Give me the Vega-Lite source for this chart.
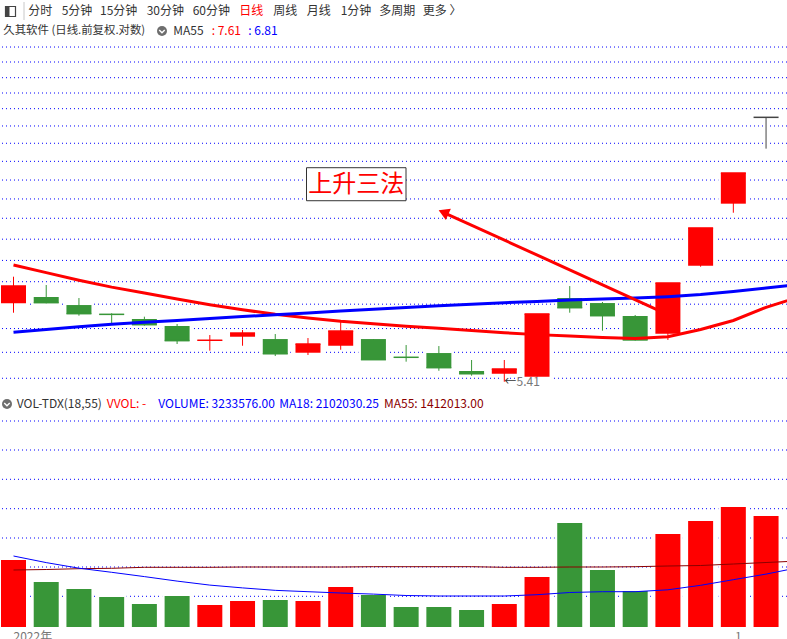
{
"$schema": "https://vega.github.io/schema/vega-lite/v6.json",
"width": 787, "height": 639,
"autosize": {"type": "none"},
"padding": 0,
"background": "white",
"config": {"view": {"stroke": null}, "font": "Noto Sans CJK SC", "scale": {"continuousPadding": 0}},
"datasets": {
"k": [
{"i":0,"o":6.183,"h":6.470,"l":6.085,"c":6.368,"d":"up","vd":"up","v":1951777},
{"i":1,"o":6.250,"h":6.379,"l":6.183,"c":6.190,"d":"down","vd":"down","v":1310895},
{"i":2,"o":6.165,"h":6.239,"l":6.054,"c":6.075,"d":"down","vd":"down","v":1106978},
{"i":3,"o":6.072,"h":6.079,"l":5.976,"c":6.068,"d":"down","vd":"down","v":873930},
{"i":4,"o":6.020,"h":6.044,"l":5.952,"c":5.962,"d":"down","vd":"down","v":670013},
{"i":5,"o":5.949,"h":5.969,"l":5.769,"c":5.802,"d":"down","vd":"down","v":903061},
{"i":6,"o":5.802,"h":5.858,"l":5.704,"c":5.806,"d":"up","vd":"up","v":640882},
{"i":7,"o":5.841,"h":5.908,"l":5.752,"c":5.878,"d":"up","vd":"up","v":757406},
{"i":8,"o":5.818,"h":5.868,"l":5.652,"c":5.674,"d":"down","vd":"down","v":786537},
{"i":9,"o":5.684,"h":5.828,"l":5.662,"c":5.769,"d":"up","vd":"up","v":757406},
{"i":10,"o":5.752,"h":6.010,"l":5.713,"c":5.898,"d":"up","vd":"up","v":1165240},
{"i":11,"o":5.818,"h":5.818,"l":5.617,"c":5.617,"d":"down","vd":"down","v":932192},
{"i":12,"o":5.643,"h":5.759,"l":5.598,"c":5.640,"d":"down","vd":"down","v":582620},
{"i":13,"o":5.681,"h":5.749,"l":5.512,"c":5.541,"d":"down","vd":"down","v":582620},
{"i":14,"o":5.510,"h":5.614,"l":5.466,"c":5.484,"d":"down","vd":"down","v":495227},
{"i":15,"o":5.484,"h":5.614,"l":5.410,"c":5.529,"d":"up","vd":"up","v":670013},
{"i":16,"o":5.456,"h":6.072,"l":5.456,"c":6.072,"d":"up","vd":"up","v":1456550},
{"i":17,"o":6.239,"h":6.368,"l":6.085,"c":6.137,"d":"down","vd":"down","v":3029624},
{"i":18,"o":6.186,"h":6.197,"l":5.901,"c":6.054,"d":"down","vd":"down","v":1660467},
{"i":19,"o":6.051,"h":6.061,"l":5.802,"c":5.809,"d":"down","vd":"down","v":1048716},
{"i":20,"o":5.871,"h":6.401,"l":5.809,"c":6.401,"d":"up","vd":"up","v":2709183},
{"i":21,"o":6.592,"h":7.030,"l":6.581,"c":7.030,"d":"up","vd":"up","v":3087886},
{"i":22,"o":7.327,"h":7.720,"l":7.215,"c":7.720,"d":"up","vd":"up","v":3495720},
{"i":23,"o":8.488,"h":8.488,"l":8.047,"c":8.488,"d":"flat","vd":"up","v":3233576}
],
"ma": [
{"i":0,"mr":6.600,"mb":5.885,"v18":2068301,"v55":1660467},
{"i":1,"mr":6.515,"mb":5.913,"v18":1876036,"v55":1675033},
{"i":2,"mr":6.431,"mb":5.940,"v18":1712903,"v55":1698337},
{"i":3,"mr":6.356,"mb":5.966,"v18":1593466,"v55":1709990},
{"i":4,"mr":6.292,"mb":5.986,"v18":1468202,"v55":1739121},
{"i":5,"mr":6.228,"mb":6.006,"v18":1337113,"v55":1739121},
{"i":6,"mr":6.167,"mb":6.026,"v18":1220589,"v55":1739121},
{"i":7,"mr":6.116,"mb":6.045,"v18":1139022,"v55":1747860},
{"i":8,"mr":6.068,"mb":6.064,"v18":1067651,"v55":1747860},
{"i":9,"mr":6.031,"mb":6.083,"v18":1028324,"v55":1747860},
{"i":10,"mr":5.997,"mb":6.103,"v18":990454,"v55":1747860},
{"i":11,"mr":5.972,"mb":6.121,"v18":958410,"v55":1756599},
{"i":12,"mr":5.947,"mb":6.140,"v18":917627,"v55":1756599},
{"i":13,"mr":5.927,"mb":6.157,"v18":903061,"v55":1756599},
{"i":14,"mr":5.903,"mb":6.174,"v18":903061,"v55":1756599},
{"i":15,"mr":5.881,"mb":6.190,"v18":903061,"v55":1739121},
{"i":16,"mr":5.862,"mb":6.203,"v18":940931,"v55":1739121},
{"i":17,"mr":5.849,"mb":6.217,"v18":1005020,"v55":1747860},
{"i":18,"mr":5.834,"mb":6.230,"v18":1028324,"v55":1747860},
{"i":19,"mr":5.823,"mb":6.239,"v18":1028324,"v55":1756599},
{"i":20,"mr":5.841,"mb":6.254,"v18":1083673,"v55":1776991},
{"i":21,"mr":5.913,"mb":6.276,"v18":1214763,"v55":1791557},
{"i":22,"mr":6.005,"mb":6.309,"v18":1377896,"v55":1835253},
{"i":23,"mr":6.141,"mb":6.346,"v18":1541030,"v55":1878950},
{"i":24,"mr":6.250,"mb":6.384,"v18":1733295,"v55":1922646}
],
"pgrid": [{"p":9.568},{"p":9.327},{"p":9.081},{"p":8.847},{"p":8.614},{"p":8.364},{"p":8.121},{"p":7.875},{"p":7.628},{"p":7.386},{"p":7.147},{"p":6.897},{"p":6.652},{"p":6.415},{"p":6.174},{"p":5.923},{"p":5.688},{"p":5.442}],
"vgrid": [{"v":6000986},{"v":5156187},{"v":4302649},{"v":3446197},{"v":2592659},{"v":1747860},{"v":894322}],
"ptext": [
{"x":0.452,"y":10.165,"t":"分时","c":"txt"},
{"x":1.473,"y":10.165,"t":"5分钟","c":"txt"},
{"x":2.644,"y":10.165,"t":"15分钟","c":"txt"},
{"x":4.071,"y":10.165,"t":"30分钟","c":"txt"},
{"x":5.477,"y":10.165,"t":"60分钟","c":"txt"},
{"x":6.901,"y":10.165,"t":"日线","c":"red"},
{"x":7.940,"y":10.165,"t":"周线","c":"txt"},
{"x":8.961,"y":10.165,"t":"月线","c":"txt"},
{"x":10.000,"y":10.165,"t":"1分钟","c":"txt"},
{"x":11.180,"y":10.165,"t":"多周期","c":"txt"},
{"x":12.506,"y":10.165,"t":"更多 〉","c":"txt"},
{"x":4.884,"y":9.833,"t":"MA55","c":"txt"},
{"x":6.057,"y":9.833,"t":": 7.61","c":"red"},
{"x":7.176,"y":9.833,"t":": 6.81","c":"blue"},
{"x":15.0,"y":5.41,"t":"←","c":"txt"},
{"x":15.373,"y":5.41,"t":"5.41","c":"gray"}
],
"ttl": [{"x":-0.312,"y":9.833,"t":"久其软件 (日线.前复权.对数)","c":"txt"}],
"vtext": [
{"x":0.098,"y":6496213,"t":"VOL-TDX(18,55)","c":"txt"},
{"x":2.848,"y":6496213,"t":"VVOL: -","c":"red"},
{"x":4.425,"y":6496213,"t":"VOLUME: 3233576.00","c":"blue"},
{"x":8.123,"y":6496213,"t":"MA18: 2102030.25","c":"blue"},
{"x":11.323,"y":6496213,"t":"MA55: 1412013.00","c":"darkred"}
],
"vaxis": [
{"x":0.0,"y":-145655,"t":"2022年","c":"gray"},
{"x":22.05,"y":-145655,"t":"1","c":"gray"}
],
"note": [{"x":8.955,"x2":11.996,"y":7.790,"y2":7.364,"xc":10.477,"yc":7.570,"t":"上升三法","ax":13.249,"ay":7.199,"ax2":19.697,"ay2":6.113,"hx":13.142,"hy":7.220}],
"icons": [{"x":4.538,"y":9.833}],
"vicons": [{"x":-0.199,"y":6496213}],
"tb": [{"x":-0.0917,"y":10.165,"sx":0.321,"sy":10.331,"sy2":10.019}]
},
"layer": [
{
"layer": [
{"data":{"name":"pgrid"},"mark":{"type":"rule","strokeDash":[1,3],"color":"#0000ff","strokeWidth":1},
 "encoding":{"y":{"field":"p","type":"quantitative","scale":{"type":"log","domain":[3.4903,10.366],"nice":false,"zero":false},"axis":null}}},
{"data":{"name":"k"},"mark":{"type":"rule","color":"white","strokeWidth":6},
 "encoding":{"x":{"field":"i","type":"quantitative","scale":{"domain":[-0.4126,23.64],"nice":false,"zero":false,"padding":0},"axis":null},
  "y":{"field":"l","type":"quantitative","scale":{"type":"log","domain":[3.4903,10.366],"nice":false,"zero":false},"axis":null},"y2":{"field":"h"}}},
{"data":{"name":"k"},"mark":{"type":"bar","width":25,"color":"white","stroke":"white","strokeWidth":5},
 "encoding":{"x":{"field":"i","type":"quantitative","scale":{"domain":[-0.4126,23.64],"nice":false,"zero":false,"padding":0},"axis":null},
  "y":{"field":"o","type":"quantitative","scale":{"type":"log","domain":[3.4903,10.366],"nice":false,"zero":false},"axis":null},"y2":{"field":"c"}}},
{"data":{"name":"k"},"mark":{"type":"rule","strokeWidth":1},
 "encoding":{"x":{"field":"i","type":"quantitative","scale":{"domain":[-0.4126,23.64],"nice":false,"zero":false,"padding":0},"axis":null},
  "y":{"field":"l","type":"quantitative","scale":{"type":"log","domain":[3.4903,10.366],"nice":false,"zero":false},"axis":null},"y2":{"field":"h"},
  "color":{"field":"d","type":"nominal","scale":{"domain":["up","down","flat","txt","red","blue","darkred","gray"],"range":["#ff0000","#389638","#444444","#333333","#ff0000","#0000ff","#8b0000","#777777"]},"legend":null}}},
{"data":{"name":"k"},"mark":{"type":"bar","width":25},
 "encoding":{"x":{"field":"i","type":"quantitative","scale":{"domain":[-0.4126,23.64],"nice":false,"zero":false,"padding":0},"axis":null},
  "y":{"field":"o","type":"quantitative","scale":{"type":"log","domain":[3.4903,10.366],"nice":false,"zero":false},"axis":null},"y2":{"field":"c"},
  "color":{"field":"d","type":"nominal","scale":{"domain":["up","down","flat","txt","red","blue","darkred","gray"],"range":["#ff0000","#389638","#444444","#333333","#ff0000","#0000ff","#8b0000","#777777"]},"legend":null}}},
{"data":{"name":"k"},"mark":{"type":"tick","orient":"horizontal","size":25,"thickness":1.5,"opacity":1},
 "encoding":{"x":{"field":"i","type":"quantitative","scale":{"domain":[-0.4126,23.64],"nice":false,"zero":false,"padding":0},"axis":null},
  "y":{"field":"c","type":"quantitative","scale":{"type":"log","domain":[3.4903,10.366],"nice":false,"zero":false},"axis":null},
  "color":{"field":"d","type":"nominal","scale":{"domain":["up","down","flat","txt","red","blue","darkred","gray"],"range":["#ff0000","#389638","#444444","#333333","#ff0000","#0000ff","#8b0000","#777777"]},"legend":null}}},
{"data":{"name":"ma"},"mark":{"type":"line","color":"#ff0000","strokeWidth":3,"clip":true},
 "encoding":{"x":{"field":"i","type":"quantitative","scale":{"domain":[-0.4126,23.64],"nice":false,"zero":false,"padding":0},"axis":null},
  "y":{"field":"mr","type":"quantitative","scale":{"type":"log","domain":[3.4903,10.366],"nice":false,"zero":false},"axis":null}}},
{"data":{"name":"ma"},"mark":{"type":"line","color":"#0000ff","strokeWidth":3,"clip":true},
 "encoding":{"x":{"field":"i","type":"quantitative","scale":{"domain":[-0.4126,23.64],"nice":false,"zero":false,"padding":0},"axis":null},
  "y":{"field":"mb","type":"quantitative","scale":{"type":"log","domain":[3.4903,10.366],"nice":false,"zero":false},"axis":null}}},
{"data":{"name":"note"},"mark":{"type":"rect","fill":"white","stroke":"#333333","strokeWidth":1},
 "encoding":{"x":{"field":"x","type":"quantitative","scale":{"domain":[-0.4126,23.64],"nice":false,"zero":false,"padding":0},"axis":null},"x2":{"field":"x2"},
  "y":{"field":"y","type":"quantitative","scale":{"type":"log","domain":[3.4903,10.366],"nice":false,"zero":false},"axis":null},"y2":{"field":"y2"}}},
{"data":{"name":"note"},"mark":{"type":"text","fontSize":24,"color":"#ff0000","align":"center","baseline":"middle","font":"Noto Sans CJK SC"},
 "encoding":{"x":{"field":"xc","type":"quantitative","scale":{"domain":[-0.4126,23.64],"nice":false,"zero":false,"padding":0},"axis":null},
  "y":{"field":"yc","type":"quantitative","scale":{"type":"log","domain":[3.4903,10.366],"nice":false,"zero":false},"axis":null},"text":{"field":"t"}}},
{"data":{"name":"note"},"mark":{"type":"rule","color":"#ff0000","strokeWidth":3},
 "encoding":{"x":{"field":"ax","type":"quantitative","scale":{"domain":[-0.4126,23.64],"nice":false,"zero":false,"padding":0},"axis":null},"x2":{"field":"ax2"},
  "y":{"field":"ay","type":"quantitative","scale":{"type":"log","domain":[3.4903,10.366],"nice":false,"zero":false},"axis":null},"y2":{"field":"ay2"}}},
{"data":{"name":"note"},"mark":{"type":"point","shape":"triangle-up","filled":true,"color":"#ff0000","size":150,"angle":294,"opacity":1},
 "encoding":{"x":{"field":"hx","type":"quantitative","scale":{"domain":[-0.4126,23.64],"nice":false,"zero":false,"padding":0},"axis":null},
  "y":{"field":"hy","type":"quantitative","scale":{"type":"log","domain":[3.4903,10.366],"nice":false,"zero":false},"axis":null}}},
{"data":{"name":"ptext"},"mark":{"type":"text","fontSize":12,"align":"left","baseline":"middle","font":"Noto Sans CJK SC"},
 "encoding":{"x":{"field":"x","type":"quantitative","scale":{"domain":[-0.4126,23.64],"nice":false,"zero":false,"padding":0},"axis":null},
  "y":{"field":"y","type":"quantitative","scale":{"type":"log","domain":[3.4903,10.366],"nice":false,"zero":false},"axis":null},"text":{"field":"t"},
  "color":{"field":"c","type":"nominal","scale":{"domain":["up","down","flat","txt","red","blue","darkred","gray"],"range":["#ff0000","#389638","#444444","#333333","#ff0000","#0000ff","#8b0000","#777777"]},"legend":null}}},
{"data":{"name":"ttl"},"mark":{"type":"text","fontSize":11.4,"align":"left","baseline":"middle","font":"Noto Sans CJK SC"},
 "encoding":{"x":{"field":"x","type":"quantitative","scale":{"domain":[-0.4126,23.64],"nice":false,"zero":false,"padding":0},"axis":null},
  "y":{"field":"y","type":"quantitative","scale":{"type":"log","domain":[3.4903,10.366],"nice":false,"zero":false},"axis":null},"text":{"field":"t"},
  "color":{"field":"c","type":"nominal","scale":{"domain":["up","down","flat","txt","red","blue","darkred","gray"],"range":["#ff0000","#389638","#444444","#333333","#ff0000","#0000ff","#8b0000","#777777"]},"legend":null}}},
{"data":{"name":"icons"},"mark":{"type":"point","shape":"circle","filled":true,"color":"#6e6e6e","size":100,"opacity":1},
 "encoding":{"x":{"field":"x","type":"quantitative","scale":{"domain":[-0.4126,23.64],"nice":false,"zero":false,"padding":0},"axis":null},
  "y":{"field":"y","type":"quantitative","scale":{"type":"log","domain":[3.4903,10.366],"nice":false,"zero":false},"axis":null}}},
{"data":{"name":"icons"},"mark":{"type":"point","shape":"M-0.55,-0.2L0,0.35L0.55,-0.2","filled":false,"color":"white","strokeWidth":1.4,"size":100,"opacity":1},
 "encoding":{"x":{"field":"x","type":"quantitative","scale":{"domain":[-0.4126,23.64],"nice":false,"zero":false,"padding":0},"axis":null},
  "y":{"field":"y","type":"quantitative","scale":{"type":"log","domain":[3.4903,10.366],"nice":false,"zero":false},"axis":null}}},
{"data":{"name":"tb"},"mark":{"type":"point","shape":"square","filled":false,"color":"#444444","strokeWidth":1.2,"size":100,"opacity":1},
 "encoding":{"x":{"field":"x","type":"quantitative","scale":{"domain":[-0.4126,23.64],"nice":false,"zero":false,"padding":0},"axis":null},
  "y":{"field":"y","type":"quantitative","scale":{"type":"log","domain":[3.4903,10.366],"nice":false,"zero":false},"axis":null}}},
{"data":{"name":"tb"},"mark":{"type":"point","shape":"M-1,-1L-0.2,-1L-0.2,1L-1,1Z","filled":true,"color":"#444444","size":100,"opacity":1},
 "encoding":{"x":{"field":"x","type":"quantitative","scale":{"domain":[-0.4126,23.64],"nice":false,"zero":false,"padding":0},"axis":null},
  "y":{"field":"y","type":"quantitative","scale":{"type":"log","domain":[3.4903,10.366],"nice":false,"zero":false},"axis":null}}},
{"data":{"name":"tb"},"mark":{"type":"rule","color":"#c8c8c8","strokeWidth":1},
 "encoding":{"x":{"field":"sx","type":"quantitative","scale":{"domain":[-0.4126,23.64],"nice":false,"zero":false,"padding":0},"axis":null},
  "y":{"field":"sy","type":"quantitative","scale":{"type":"log","domain":[3.4903,10.366],"nice":false,"zero":false},"axis":null},"y2":{"field":"sy2"}}}
]
},
{
"layer": [
{"data":{"name":"vgrid"},"mark":{"type":"rule","strokeDash":[1,3],"color":"#0000ff","strokeWidth":1},
 "encoding":{"y":{"field":"v","type":"quantitative","scale":{"domain":[-349572,18265137],"nice":false,"zero":false},"axis":null}}},
{"data":{"name":"k"},"mark":{"type":"bar","width":25,"color":"white","stroke":"white","strokeWidth":5},
 "encoding":{"x":{"field":"i","type":"quantitative","scale":{"domain":[-0.4126,23.64],"nice":false,"zero":false,"padding":0},"axis":null},
  "y":{"field":"v","type":"quantitative","scale":{"domain":[-349572,18265137],"nice":false,"zero":false},"axis":null},"y2":{"datum":0}}},
{"data":{"name":"k"},"mark":{"type":"bar","width":25},
 "encoding":{"x":{"field":"i","type":"quantitative","scale":{"domain":[-0.4126,23.64],"nice":false,"zero":false,"padding":0},"axis":null},
  "y":{"field":"v","type":"quantitative","scale":{"domain":[-349572,18265137],"nice":false,"zero":false},"axis":null},"y2":{"datum":0},
  "color":{"field":"vd","type":"nominal","scale":{"domain":["up","down","flat","txt","red","blue","darkred","gray"],"range":["#ff0000","#389638","#444444","#333333","#ff0000","#0000ff","#8b0000","#777777"]},"legend":null}}},
{"data":{"name":"ma"},"mark":{"type":"line","color":"#8b0000","strokeWidth":1,"clip":true},
 "encoding":{"x":{"field":"i","type":"quantitative","scale":{"domain":[-0.4126,23.64],"nice":false,"zero":false,"padding":0},"axis":null},
  "y":{"field":"v55","type":"quantitative","scale":{"domain":[-349572,18265137],"nice":false,"zero":false},"axis":null}}},
{"data":{"name":"ma"},"mark":{"type":"line","color":"#0000ff","strokeWidth":1,"clip":true},
 "encoding":{"x":{"field":"i","type":"quantitative","scale":{"domain":[-0.4126,23.64],"nice":false,"zero":false,"padding":0},"axis":null},
  "y":{"field":"v18","type":"quantitative","scale":{"domain":[-349572,18265137],"nice":false,"zero":false},"axis":null}}},
{"mark":{"type":"rule","color":"#0000ff","strokeWidth":1},
 "encoding":{"y":{"datum":6758392,"type":"quantitative","scale":{"domain":[-349572,18265137],"nice":false,"zero":false},"axis":null}}},
{"mark":{"type":"rule","color":"#0000ff","strokeWidth":1},
 "encoding":{"y":{"datum":-87393,"type":"quantitative","scale":{"domain":[-349572,18265137],"nice":false,"zero":false},"axis":null}}},
{"mark":{"type":"rule","color":"#0000ff","strokeWidth":1},
 "encoding":{"x":{"datum":21.97,"type":"quantitative","scale":{"domain":[-0.4126,23.64],"nice":false,"zero":false,"padding":0},"axis":null},
  "y":{"datum":-87393,"type":"quantitative","scale":{"domain":[-349572,18265137],"nice":false,"zero":false},"axis":null},"y2":{"datum":-349572}}},
{"data":{"name":"vtext"},"mark":{"type":"text","fontSize":12,"align":"left","baseline":"middle","font":"Noto Sans CJK SC"},
 "encoding":{"x":{"field":"x","type":"quantitative","scale":{"domain":[-0.4126,23.64],"nice":false,"zero":false,"padding":0},"axis":null},
  "y":{"field":"y","type":"quantitative","scale":{"domain":[-349572,18265137],"nice":false,"zero":false},"axis":null},"text":{"field":"t"},
  "color":{"field":"c","type":"nominal","scale":{"domain":["up","down","flat","txt","red","blue","darkred","gray"],"range":["#ff0000","#389638","#444444","#333333","#ff0000","#0000ff","#8b0000","#777777"]},"legend":null}}},
{"data":{"name":"vaxis"},"mark":{"type":"text","fontSize":12,"align":"left","baseline":"top","font":"Noto Sans CJK SC"},
 "encoding":{"x":{"field":"x","type":"quantitative","scale":{"domain":[-0.4126,23.64],"nice":false,"zero":false,"padding":0},"axis":null},
  "y":{"field":"y","type":"quantitative","scale":{"domain":[-349572,18265137],"nice":false,"zero":false},"axis":null},"text":{"field":"t"},
  "color":{"field":"c","type":"nominal","scale":{"domain":["up","down","flat","txt","red","blue","darkred","gray"],"range":["#ff0000","#389638","#444444","#333333","#ff0000","#0000ff","#8b0000","#777777"]},"legend":null}}},
{"data":{"name":"vicons"},"mark":{"type":"point","shape":"circle","filled":true,"color":"#6e6e6e","size":100,"opacity":1},
 "encoding":{"x":{"field":"x","type":"quantitative","scale":{"domain":[-0.4126,23.64],"nice":false,"zero":false,"padding":0},"axis":null},
  "y":{"field":"y","type":"quantitative","scale":{"domain":[-349572,18265137],"nice":false,"zero":false},"axis":null}}},
{"data":{"name":"vicons"},"mark":{"type":"point","shape":"M-0.55,-0.2L0,0.35L0.55,-0.2","filled":false,"color":"white","strokeWidth":1.4,"size":100,"opacity":1},
 "encoding":{"x":{"field":"x","type":"quantitative","scale":{"domain":[-0.4126,23.64],"nice":false,"zero":false,"padding":0},"axis":null},
  "y":{"field":"y","type":"quantitative","scale":{"domain":[-349572,18265137],"nice":false,"zero":false},"axis":null}}}
]
}
],
"resolve": {"scale": {"y": "independent"}}
}
